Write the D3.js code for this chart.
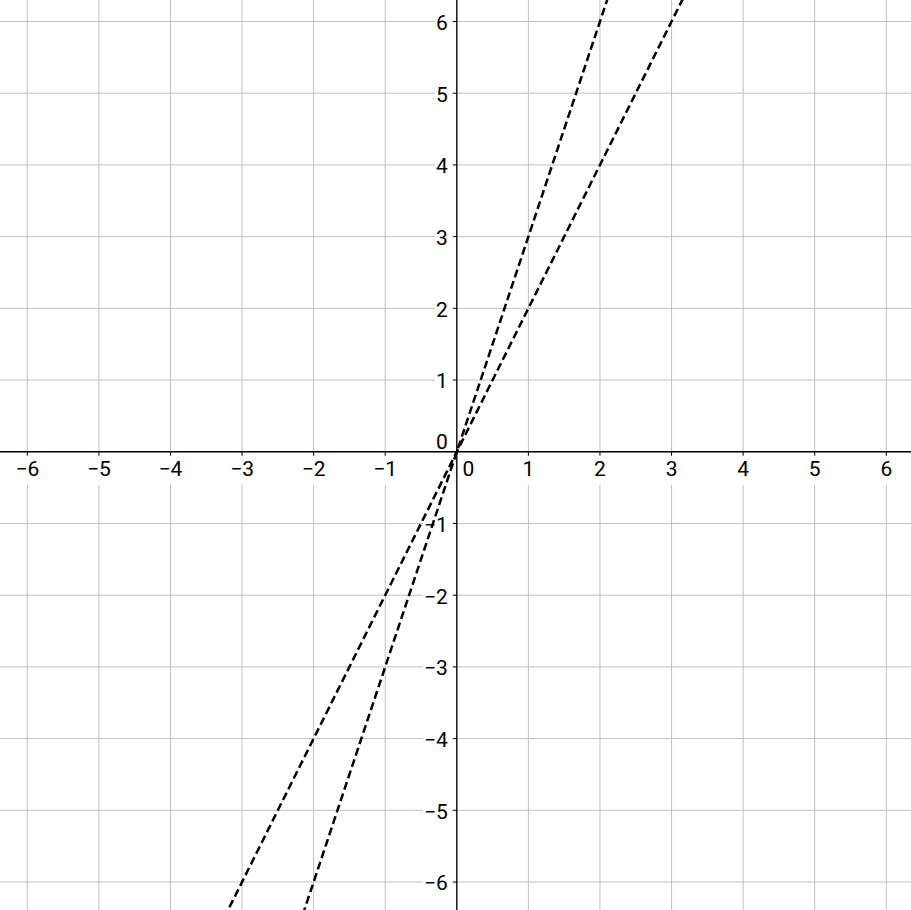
<!DOCTYPE html>
<html>
<head>
<meta charset="utf-8">
<script src="https://cdn.jsdelivr.net/npm/d3@7"></script>
<style>
  body { margin: 0; background: #fff; }
  svg { display: block; }
</style>
</head>
<body>
<div id="chart"></div>
<script>
// Tick values and labels
const xTicks = [-6, -5, -4, -3, -2, -1, 0, 1, 2, 3, 4, 5, 6];
const yTicks = [-6, -5, -4, -3, -2, -1, 0, 1, 2, 3, 4, 5, 6];
const xLabels = ["−6", "−5", "−4", "−3", "−2", "−1", "0", "1", "2", "3", "4", "5", "6"];
const yLabels = ["−6", "−5", "−4", "−3", "−2", "−1", "0", "1", "2", "3", "4", "5", "6"];

// Two dashed lines through the origin, given by points on them
const lineA = [{ x: -4, y: -8 }, { x: 4, y: 8 }];   // y = 2x
const lineB = [{ x: -3, y: -9 }, { x: 3, y: 9 }];   // y = 3x
const lines = [lineA, lineB];

const W = 911, H = 910;
const FONT = "Roboto, 'Liberation Sans', sans-serif";

const svg = d3.select("#chart")
    .append("svg")
    .attr("width", W)
    .attr("height", H);

svg.append("rect").attr("width", W).attr("height", H).attr("fill", "#fff");

const x = d3.scaleLinear().domain([-6, 6]).range([27.3, 886.3]);
const y = d3.scaleLinear().domain([-6, 6]).range([882, 21.5]);

const x0 = x(0), y0 = y(0);

// Grid lines (extended beyond the ticks to fill the view)
const gridX = d3.range(-7, 8);
const gridY = d3.range(-7, 8);

svg.append("g")
    .selectAll("line")
    .data(gridX)
    .enter()
    .append("line")
    .attr("x1", d => x(d)).attr("x2", d => x(d))
    .attr("y1", 0).attr("y2", H)
    .attr("stroke", "#c0c0c0")
    .attr("stroke-width", 1);

svg.append("g")
    .selectAll("line")
    .data(gridY)
    .enter()
    .append("line")
    .attr("y1", d => y(d)).attr("y2", d => y(d))
    .attr("x1", 0).attr("x2", W)
    .attr("stroke", "#c0c0c0")
    .attr("stroke-width", 1);

// Label layers (white boxes go under the text)
const boxes = svg.append("g");
const labels = svg.append("g")
    .attr("font-family", FONT)
    .attr("font-size", 21)
    .attr("fill", "#000");

// X axis labels
xTicks.forEach((t, i) => {
    const tx = t === 0 ? x0 + 11.5 : x(t);
    const txt = labels.append("text")
        .attr("x", tx)
        .attr("y", y0 + 24.5)
        .attr("text-anchor", "middle")
        .text(xLabels[i]);
    const b = txt.node().getBBox();
    if (t !== 0) {
        boxes.append("rect")
            .attr("x", b.x - 1)
            .attr("y", y0 + 1)
            .attr("width", b.width + 2)
            .attr("height", 32)
            .attr("fill", "#fff");
    }
});

// Y axis labels
yTicks.forEach((t, i) => {
    const ty = t === 0 ? y0 - 10 : y(t) + 1;
    const txt = labels.append("text")
        .attr("x", x0 - 9)
        .attr("y", ty)
        .attr("dy", "0.35em")
        .attr("text-anchor", "end")
        .text(yLabels[i]);
    const b = txt.node().getBBox();
    if (t !== 0) {
        boxes.append("rect")
            .attr("x", b.x - 1)
            .attr("y", b.y + 2)
            .attr("width", x0 - b.x)
            .attr("height", b.height - 4)
            .attr("fill", "#fff");
    }
});

// Axes
svg.append("line")
    .attr("x1", 0).attr("x2", W)
    .attr("y1", y0).attr("y2", y0)
    .attr("stroke", "#000").attr("stroke-width", 1.3);

svg.append("line")
    .attr("x1", x0).attr("x2", x0)
    .attr("y1", 0).attr("y2", H)
    .attr("stroke", "#000").attr("stroke-width", 1.3);

// Small tick marks
svg.append("g")
    .selectAll("line")
    .data(xTicks.filter(d => d !== 0))
    .enter()
    .append("line")
    .attr("x1", d => x(d)).attr("x2", d => x(d))
    .attr("y1", y0).attr("y2", y0 + 4)
    .attr("stroke", "#000").attr("stroke-width", 1);

svg.append("g")
    .selectAll("line")
    .data(yTicks.filter(d => d !== 0))
    .enter()
    .append("line")
    .attr("y1", d => y(d)).attr("y2", d => y(d))
    .attr("x1", x0 - 4).attr("x2", x0)
    .attr("stroke", "#000").attr("stroke-width", 1);

// Dashed lines
const line = d3.line().x(d => x(d.x)).y(d => y(d.y));

svg.append("g")
    .selectAll("path")
    .data(lines)
    .enter()
    .append("path")
    .attr("d", line)
    .attr("fill", "none")
    .attr("stroke", "#000")
    .attr("stroke-width", 2.5)
    .attr("stroke-dasharray", "8,4");
</script>
</body>
</html>
